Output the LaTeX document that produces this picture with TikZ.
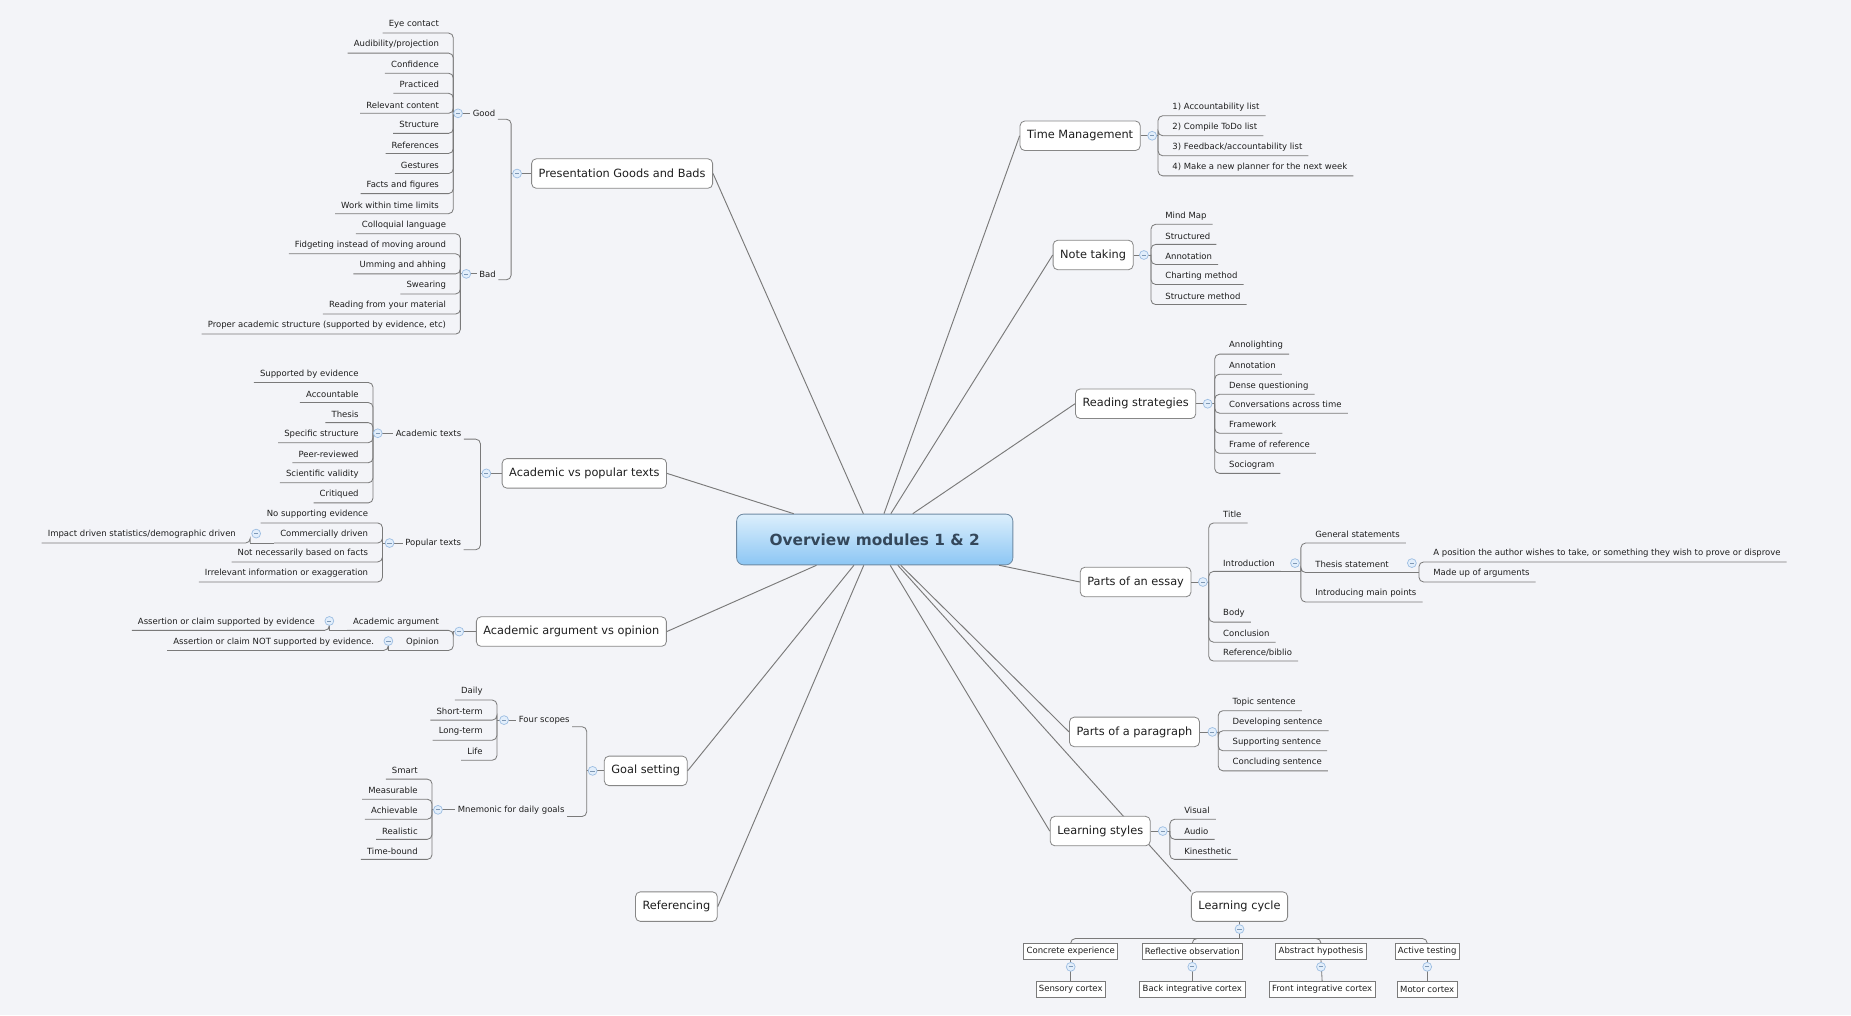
\documentclass[tikz,border=0pt]{standalone}
\usepackage{fontspec}
\setmainfont{DejaVu Sans}
\definecolor{bg}{HTML}{F3F4F8}
\definecolor{lc}{HTML}{7A7A7A}
\definecolor{txt}{HTML}{1E1E1E}
\definecolor{ctop}{HTML}{DCEFFC}
\definecolor{cbot}{HTML}{8CC6F4}
\definecolor{cbord}{HTML}{6E8AA3}
\definecolor{ctxt}{HTML}{34475A}
\definecolor{colb}{HTML}{9DBEE2}
\definecolor{colf}{HTML}{E2EEFB}
\tikzset{
 conn/.style={draw=lc,line width=0.7pt,rounded corners=4pt},
 spoke/.style={draw=lc,line width=0.8pt},
 leaf/.style={font=\fontsize{7.2}{8}\selectfont,text=txt,inner xsep=5pt,inner ysep=0pt,minimum height=14pt},
 grp/.style={font=\fontsize{7.2}{8}\selectfont,text=txt,inner sep=2pt},
 mainbox/.style={draw=lc!90,fill=white,rounded corners=4pt,font=\fontsize{9.6}{11}\selectfont,text=txt,inner xsep=6pt,minimum height=25pt,line width=0.7pt},
 cbox/.style={draw=lc,fill=white,font=\fontsize{7.2}{8}\selectfont,text=txt,inner sep=2.5pt,minimum height=13pt,line width=0.6pt},
 colp/.style={circle,draw=colb,fill=colf,inner sep=0pt,minimum size=7.5pt,line width=0.6pt,
   path picture={\draw[colb!80!black,line width=0.6pt]([xshift=-1.8pt]path picture bounding box.center)--++(3.6pt,0);}}
}
\newcommand\lleaf[5]{\node[leaf,anchor=south east] (#1) at (#2-7,#3+8) {#5};\draw[conn] (#1.south west) -| (#4);}
\newcommand\rleaf[5]{\node[leaf,anchor=south west] (#1) at (#2+7,#3+8) {#5};\draw[conn] (#1.south east) -| (#4);}
\newcommand\colp[2]{\node[colp] at (#1,#2) {};}
\begin{document}
\begin{tikzpicture}[x=1pt,y=-1pt]
\fill[bg] (0,0) rectangle (1568,860);
\useasboundingbox (0,0) rectangle (1568,860);

% center
\node[draw=cbord,rounded corners=6pt,top color=ctop,bottom color=cbot,minimum width=234pt,minimum height=43pt,font=\bfseries\fontsize{13}{15}\selectfont,text=ctxt,line width=0.7pt] (ctr) at (741,457) {Overview modules 1 \& 2};

% main nodes
\node[mainbox] (pres) at (527,147) {Presentation Goods and Bads};
\node[mainbox] (avp) at (495,401) {Academic vs popular texts};
\node[mainbox] (aao) at (484,535) {Academic argument vs opinion};
\node[mainbox] (goal) at (547,653) {Goal setting};
\node[mainbox] (ref) at (573,768) {Referencing};
\node[mainbox] (tm) at (915,115) {Time Management};
\node[mainbox] (nt) at (926,216) {Note taking};
\node[mainbox] (rs) at (962,342) {Reading strategies};
\node[mainbox] (pe) at (962,493) {Parts of an essay};
\node[mainbox] (pp) at (961,620) {Parts of a paragraph};
\node[mainbox] (lcy) at (1050,768) {Learning cycle};

% spokes
\draw[spoke] (ctr) -- (pres.east);
\draw[spoke] (ctr) -- (avp.east);
\draw[spoke] (ctr) -- (aao.east);
\draw[spoke] (ctr) -- (goal.east);
\draw[spoke] (ctr) -- (ref.east);
\draw[spoke] (ctr) -- (tm.west);
\draw[spoke] (ctr) -- (nt.west);
\draw[spoke] (ctr) -- (rs.west);
\draw[spoke] (ctr) -- (pe.west);
\draw[spoke] (ctr) -- (pp.west);
\draw[spoke] (ctr) -- (lcy.north west);
\node[mainbox] (ls) at (932,704) {Learning styles};
\draw[spoke] (ctr) -- (ls.west);

% ---- Presentation
\coordinate (jPres) at (433,147);
\coordinate (jGood) at (384,96);
\coordinate (jBad) at (390,232);
\node[grp] (good) at (410,96) {Good};
\node[grp] (bad) at (413,232) {Bad};
\draw[conn] (good.south east) -| (jPres);
\draw[conn] (bad.south east) -| (jPres);
\draw[conn] (jPres) -- (pres.west);
\draw[conn] (jGood) -- (good.west);
\draw[conn] (jBad) -- (bad.west);
\lleaf{g1}{384}{20}{jGood}{Eye contact}
\lleaf{g2}{384}{37}{jGood}{Audibility/projection}
\lleaf{g3}{384}{54}{jGood}{Confidence}
\lleaf{g4}{384}{71}{jGood}{Practiced}
\lleaf{g5}{384}{88}{jGood}{Relevant content}
\lleaf{g6}{384}{105}{jGood}{Structure}
\lleaf{g7}{384}{122}{jGood}{References}
\lleaf{g8}{384}{139}{jGood}{Gestures}
\lleaf{g9}{384}{156}{jGood}{Facts and figures}
\lleaf{g10}{384}{173}{jGood}{Work within time limits}
\lleaf{b1}{390}{190}{jBad}{Colloquial language}
\lleaf{b2}{390}{207}{jBad}{Fidgeting instead of moving around}
\lleaf{b3}{390}{224}{jBad}{Umming and ahhing}
\lleaf{b4}{390}{241}{jBad}{Swearing}
\lleaf{b5}{390}{258}{jBad}{Reading from your material}
\lleaf{b6}{390}{275}{jBad}{Proper academic structure (supported by evidence, etc)}
\colp{438}{147}\colp{388}{96}\colp{395}{232}

% ---- Academic vs popular
\coordinate (jAvp) at (407,401);
\coordinate (jAT) at (316,367);
\coordinate (jPT) at (324,460);
\node[grp] (at) at (363,367) {Academic texts};
\node[grp] (pt) at (367,460) {Popular texts};
\draw[conn] (at.south east) -| (jAvp);
\draw[conn] (pt.south east) -| (jAvp);
\draw[conn] (jAvp) -- (avp.west);
\draw[conn] (jAT) -- (at.west);
\draw[conn] (jPT) -- (pt.west);
\lleaf{a1}{316}{316}{jAT}{Supported by evidence}
\lleaf{a2}{316}{333}{jAT}{Accountable}
\lleaf{a3}{316}{350}{jAT}{Thesis}
\lleaf{a4}{316}{367}{jAT}{Specific structure}
\lleaf{a5}{316}{384}{jAT}{Peer-reviewed}
\lleaf{a6}{316}{401}{jAT}{Scientific validity}
\lleaf{a7}{316}{418}{jAT}{Critiqued}
\lleaf{p1}{324}{435}{jPT}{No supporting evidence}
\lleaf{p2}{324}{452}{jPT}{Commercially driven}
\lleaf{p3}{324}{468}{jPT}{Not necessarily based on facts}
\lleaf{p4}{324}{485}{jPT}{Irrelevant information or exaggeration}
\coordinate (jCD) at (212,460);
\draw[conn] (jCD) -- (p2.south west);
\lleaf{p21}{212}{452}{jCD}{Impact driven statistics/demographic driven}
\colp{412}{401}\colp{320}{367}\colp{330}{460}\colp{217}{452}

% ---- Academic argument vs opinion
\coordinate (jAao) at (384,535);
\draw[conn] (jAao) -- (aao.west);
\lleaf{o1}{384}{526}{jAao}{Academic argument}
\lleaf{o2}{384}{543}{jAao}{Opinion}
\coordinate (jO1) at (279,534);
\coordinate (jO2) at (329,551);
\draw[conn] (jO1) -- (o1.south west);
\draw[conn] (jO2) -- (o2.south west);
\lleaf{o11}{279}{526}{jO1}{Assertion or claim supported by evidence}
\lleaf{o21}{329}{543}{jO2}{Assertion or claim NOT supported by evidence.}
\colp{389}{535}\colp{279}{526}\colp{329}{543}

% ---- Goal setting
\coordinate (jGoal) at (497,653);
\coordinate (jFS) at (421,610);
\coordinate (jMn) at (366,686);
\node[grp] (fs) at (461,610) {Four scopes};
\node[grp] (mn) at (433,686) {Mnemonic for daily goals};
\draw[conn] (fs.south east) -| (jGoal);
\draw[conn] (mn.south east) -| (jGoal);
\draw[conn] (jGoal) -- (goal.west);
\draw[conn] (jFS) -- (fs.west);
\draw[conn] (jMn) -- (mn.west);
\lleaf{f1}{421}{585}{jFS}{Daily}
\lleaf{f2}{421}{602}{jFS}{Short-term}
\lleaf{f3}{421}{619}{jFS}{Long-term}
\lleaf{f4}{421}{636}{jFS}{Life}
\lleaf{m1}{366}{652}{jMn}{Smart}
\lleaf{m2}{366}{669}{jMn}{Measurable}
\lleaf{m3}{366}{686}{jMn}{Achievable}
\lleaf{m4}{366}{703}{jMn}{Realistic}
\lleaf{m5}{366}{720}{jMn}{Time-bound}
\colp{502}{653}\colp{427}{610}\colp{371}{686}

% ---- Time management
\coordinate (jTM) at (981,115);
\draw[conn] (tm.east) -- (jTM);
\rleaf{t1}{981}{90}{jTM}{1) Accountability list}
\rleaf{t2}{981}{107}{jTM}{2) Compile ToDo list}
\rleaf{t3}{981}{124}{jTM}{3) Feedback/accountability list}
\rleaf{t4}{981}{141}{jTM}{4) Make a new planner for the next week}
\colp{976}{115}

% ---- Note taking
\coordinate (jNT) at (975,216);
\draw[conn] (nt.east) -- (jNT);
\rleaf{n1}{975}{182}{jNT}{Mind Map}
\rleaf{n2}{975}{199}{jNT}{Structured}
\rleaf{n3}{975}{216}{jNT}{Annotation}
\rleaf{n4}{975}{233}{jNT}{Charting method}
\rleaf{n5}{975}{250}{jNT}{Structure method}
\colp{969}{216}

% ---- Reading strategies
\coordinate (jRS) at (1029,342);
\draw[conn] (rs.east) -- (jRS);
\rleaf{r1}{1029}{292}{jRS}{Annolighting}
\rleaf{r2}{1029}{309}{jRS}{Annotation}
\rleaf{r3}{1029}{326}{jRS}{Dense questioning}
\rleaf{r4}{1029}{342}{jRS}{Conversations across time}
\rleaf{r5}{1029}{359}{jRS}{Framework}
\rleaf{r6}{1029}{376}{jRS}{Frame of reference}
\rleaf{r7}{1029}{393}{jRS}{Sociogram}
\colp{1023}{342}

% ---- Parts of an essay
\coordinate (jPE) at (1024,493);
\draw[conn] (pe.east) -- (jPE);
\rleaf{e1}{1024}{435}{jPE}{Title}
\rleaf{e2}{1024}{476}{jPE}{Introduction}
\rleaf{e3}{1024}{519}{jPE}{Body}
\rleaf{e4}{1024}{536}{jPE}{Conclusion}
\rleaf{e5}{1024}{552}{jPE}{Reference/biblio}
\coordinate (jIn) at (1102,484);
\draw[conn] (e2.south east) -- (jIn);
\rleaf{i1}{1102}{452}{jIn}{General statements}
\rleaf{i2}{1102}{477}{jIn}{Thesis statement}
\rleaf{i3}{1102}{502}{jIn}{Introducing main points}
\coordinate (jTh) at (1202,485);
\draw[conn] (i2.south east) -- (jTh);
\rleaf{h1}{1202}{468}{jTh}{A position the author wishes to take, or something they wish to prove or disprove}
\rleaf{h2}{1202}{485}{jTh}{Made up of arguments}
\colp{1019}{493}\colp{1097}{477}\colp{1196}{477}

% ---- Parts of a paragraph
\coordinate (jPP) at (1032,620);
\draw[conn] (pp.east) -- (jPP);
\rleaf{q1}{1032}{594}{jPP}{Topic sentence}
\rleaf{q2}{1032}{611}{jPP}{Developing sentence}
\rleaf{q3}{1032}{628}{jPP}{Supporting sentence}
\rleaf{q4}{1032}{645}{jPP}{Concluding sentence}
\colp{1027}{620}

% ---- Learning styles
\coordinate (jLS) at (991,704);
\draw[conn] (ls.east) -- (jLS);
\rleaf{s1}{991}{686}{jLS}{Visual}
\rleaf{s2}{991}{703}{jLS}{Audio}
\rleaf{s3}{991}{720}{jLS}{Kinesthetic}
\colp{985}{704}

% ---- Learning cycle
\coordinate (jLC) at (1050,795);
\node[cbox] (c1) at (907,806) {Concrete experience};
\node[cbox] (c2) at (1010,806) {Reflective observation};
\node[cbox] (c3) at (1119,806) {Abstract hypothesis};
\node[cbox] (c4) at (1209,806) {Active testing};
\node[cbox] (d1) at (907,838) {Sensory cortex};
\node[cbox] (d2) at (1010,838) {Back integrative cortex};
\node[cbox] (d3) at (1120,838) {Front integrative cortex};
\node[cbox] (d4) at (1209,838) {Motor cortex};
\draw[conn] (lcy.south) -- (jLC);
\draw[conn] (jLC) -| (c1.north);
\draw[conn] (jLC) -| (c2.north);
\draw[conn] (jLC) -| (c3.north);
\draw[conn] (jLC) -| (c4.north);
\draw[conn] (c1.south) -- (d1.north);
\draw[conn] (c2.south) -- (d2.north);
\draw[conn] (c3.south) -- (d3.north);
\draw[conn] (c4.south) -- (d4.north);
\colp{1050}{787}\colp{907}{819}\colp{1010}{819}\colp{1119}{819}\colp{1209}{819}
\end{tikzpicture}
\end{document}
